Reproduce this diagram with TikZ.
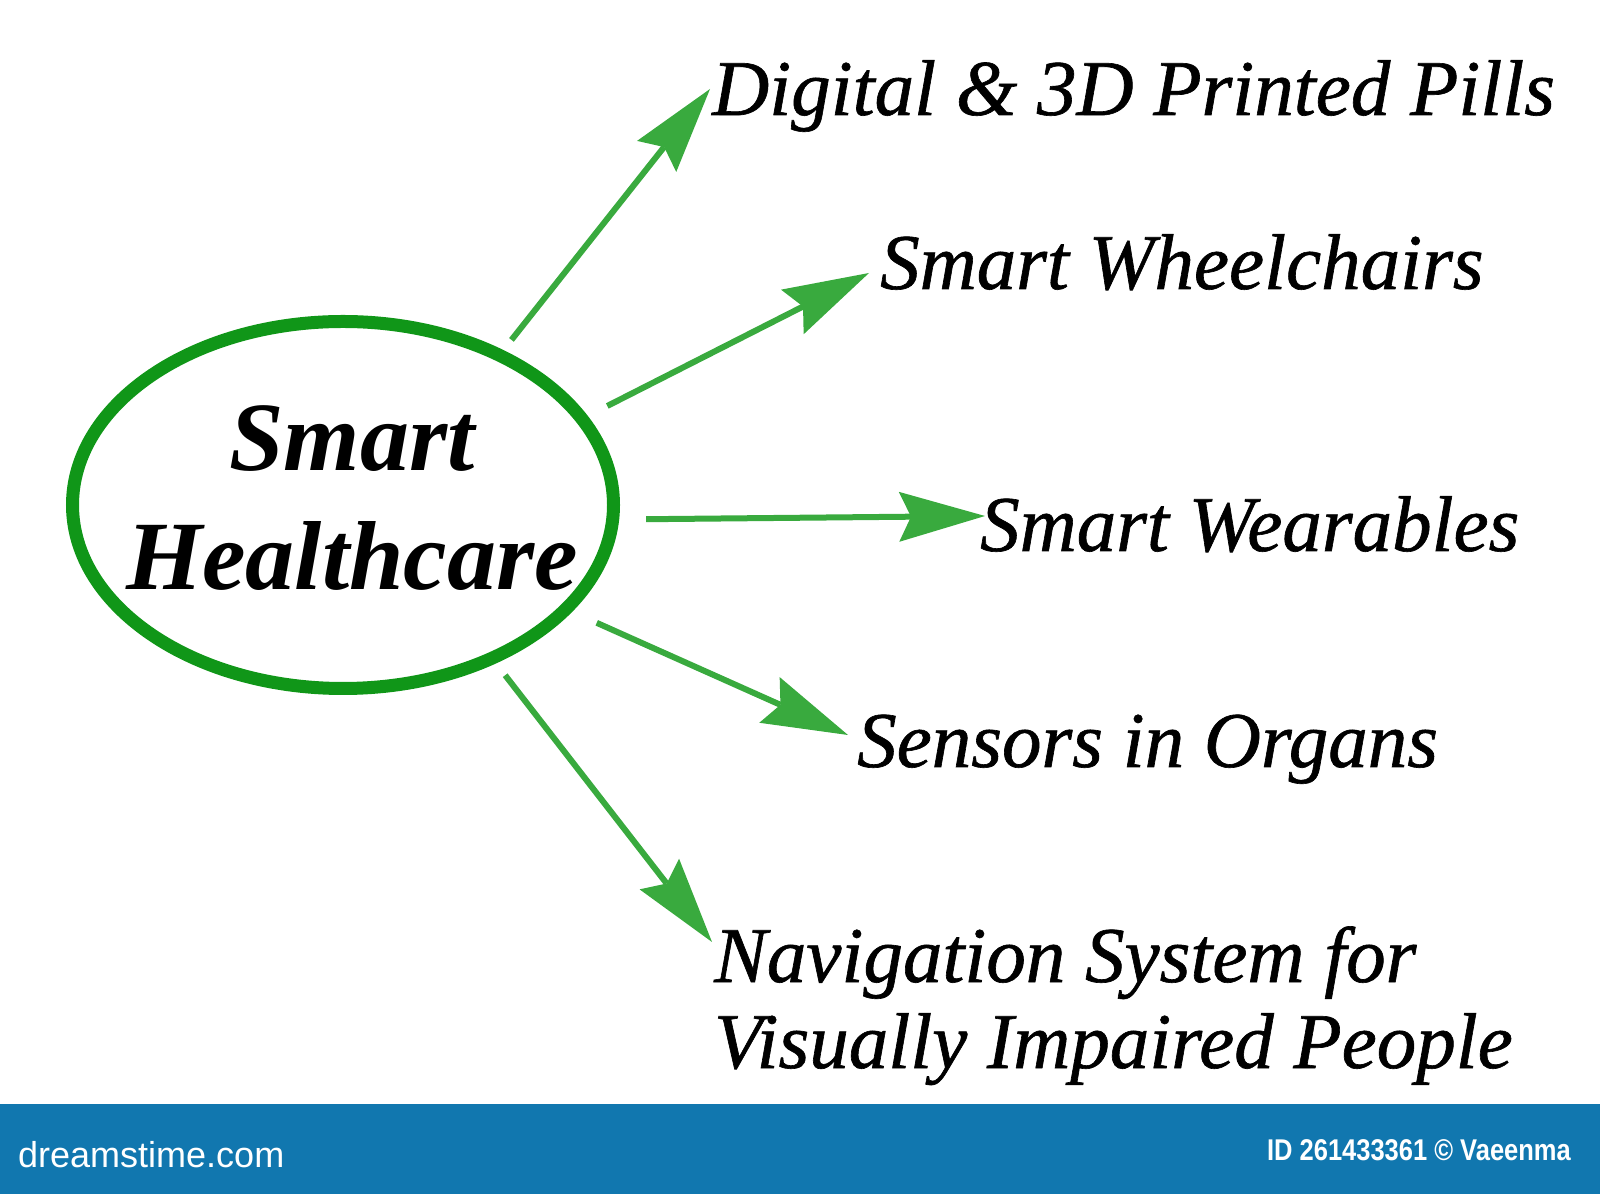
\documentclass[tikz,border=0pt]{standalone}
\usepackage{fontspec}
\setmainfont{Liberation Serif}
\newfontfamily\itemfont{Liberation Serif}[ItalicFeatures={FakeBold=0.8}]
\newfontfamily\barfont{Liberation Sans}
\usetikzlibrary{shapes.geometric,arrows.meta}
\definecolor{ovalgreen}{RGB}{16,150,24}
\definecolor{arrowgreen}{RGB}{57,170,62}
\definecolor{barblue}{RGB}{17,119,175}

\begin{document}
\begin{tikzpicture}[x=1pt,y=1pt,
  oval/.style={ellipse,draw=ovalgreen,line width=13pt,minimum width=541pt,minimum height=367pt,inner xsep=-80pt,inner ysep=0pt,text depth=14pt,align=center,font=\fontsize{98}{119}\selectfont\bfseries\itshape},
  item/.style={anchor=base west,inner sep=0pt,align=left,font=\fontsize{79}{86}\selectfont\itemfont\itshape},
  arr/.style={draw=arrowgreen,line width=6pt,-{Stealth[length=86pt,width=50pt,inset=12pt,line width=0pt]}}]
\useasboundingbox (0,0) rectangle (1600,1194);
%Построение эллипса
\node[oval] (hc) at (343,689) {\hspace*{18pt}Smart\\\hspace*{18pt}Healthcare};

%Подписи
\node[item] (pills) at (712,1079) {Digital \& 3D Printed Pills};
\node[item] (wheel) at (880,905) {Smart Wheelchairs};
\node[item] (wear) at (980,643) {Smart Wearables};
\node[item] (sens) at (857,427) {Sensors in Organs};
\node[item] (nav) at (714,126) {Navigation System for\\Visually Impaired People};

%Стрелки
\draw[arr,shorten <=13pt] (hc.44.7) -- ([shift={(-2,26)}]pills.base west);
\draw[arr,shorten <=22pt] (hc.20.3) -- ([shift={(-11,16)}]wheel.base west);
\draw[arr,shorten <=27pt] (hc.-3) -- ([shift={(5,35)}]wear.base west);
\draw[arr,shorten <=27pt] (hc.-25.5) -- ([shift={(-9,32)}]sens.base west);
\draw[arr,shorten <=15pt] (hc.-46.4) -- ([shift={(-2,126)}]nav.base west);

%Нижняя полоса
\fill[barblue] (0,0) rectangle (1600,90);
\node[anchor=base west,inner sep=0pt,text=white,font=\fontsize{36}{40}\selectfont\barfont] (site) at (18,27) {dreamstime.com};
\node[anchor=base east,inner sep=0pt,text=white,xscale=0.85,font=\fontsize{30}{34}\selectfont\barfont\bfseries] (id) at (1571,34) {ID 261433361 © Vaeenma};
\end{tikzpicture}
\end{document}
